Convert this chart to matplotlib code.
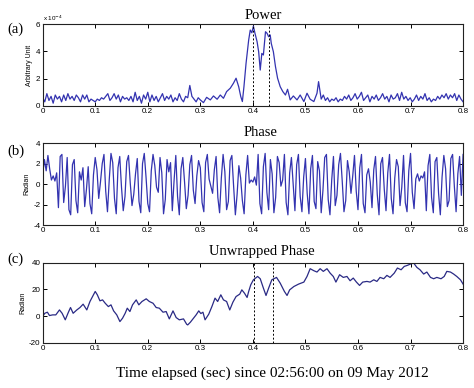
import matplotlib
matplotlib.use("Agg")
import matplotlib.pyplot as plt
import numpy as np

# ---- data ----
# power, units of 1e-4
power_base1 = [0.6, 0.3, 0.9, 0.4, 0.7, 0.2, 0.8, 0.5, 0.7, 0.3,
               0.8, 0.4, 0.9, 0.5, 0.7, 0.4, 0.8, 0.6, 0.3, 0.8,
               0.5, 0.8, 0.3, 0.5, 0.4, 0.3, 0.5, 0.4, 0.6, 0.5,
               0.7, 0.9, 0.4, 0.6, 0.9, 0.5, 0.8, 0.3, 0.7, 0.5,
               0.6, 0.4, 0.7, 0.3, 1.0, 0.4, 0.7, 0.2, 0.8, 0.5,
               1.0, 0.3, 0.8, 0.4, 0.7, 0.3, 0.6, 0.9, 0.4, 0.7,
               0.5, 0.8, 0.3, 0.6, 0.4, 0.9, 0.5, 0.3, 0.7, 0.6,
               1.5, 0.7, 0.5, 0.3, 0.6]
power_peak_t = [0.300, 0.306, 0.312, 0.319, 0.325, 0.332, 0.338, 0.344, 0.350, 0.357,
                0.363, 0.368, 0.373, 0.377, 0.380, 0.383, 0.387, 0.392, 0.395, 0.398,
                0.401, 0.404, 0.408, 0.411, 0.414, 0.417, 0.420, 0.424, 0.427, 0.430,
                0.433, 0.435, 0.439, 0.443, 0.447, 0.452, 0.457, 0.462, 0.466, 0.471,
                0.477, 0.484, 0.490, 0.497, 0.503, 0.509, 0.516, 0.522, 0.525]
power_peak_v = [0.44, 0.24, 0.63, 0.44, 0.73, 0.49, 0.80, 0.56, 1.05, 1.30,
                1.66, 2.03, 1.41, 0.68, 0.32, 1.41, 3.12, 4.83, 5.56, 5.36,
                5.85, 5.32, 4.71, 3.97, 2.63, 3.85, 3.73, 5.44, 5.32, 5.07,
                5.20, 4.58, 3.97, 2.88, 2.03, 1.41, 1.05, 0.80, 1.22, 0.44,
                0.73, 0.44, 0.80, 0.32, 0.93, 0.49, 0.32, 0.93, 1.78]
power_base2 = [0.5, 0.8, 0.4, 0.6, 0.3, 0.5, 0.4, 0.6, 0.3, 0.5,
               0.4, 0.7, 0.5, 0.8, 0.4, 0.6, 0.9, 0.5, 0.7, 1.0,
               0.4, 0.6, 0.8, 0.3, 0.7, 0.5, 0.8, 0.4, 0.6, 0.9,
               0.5, 0.7, 0.3, 0.8, 0.5, 0.6, 0.9, 0.4, 1.0, 0.5,
               0.7, 0.4, 0.6, 0.3, 0.5, 0.8, 0.4, 0.7, 0.5, 0.9,
               0.4, 0.6, 0.3, 0.5, 0.4, 0.7, 0.5, 0.8, 0.6, 0.9,
               0.5, 0.8, 0.6, 0.9, 0.4, 0.8, 0.5, 0.3]

# wrapped phase, radian
phase_vals = [
    0.9, 2.4, 1.3, 2.8, 1.5, 0.4, 0.8, 0.3, 1.1, -2.3, 2.7, 2.9, -1.8, -0.2, 2.6, -2.5, -3.0, 1.9, 2.4, -1.6,
    -2.8, 1.2, 0.4, 1.6, -2.2, -0.5, 1.7, -1.9, -2.9, 0.9, 2.6, 1.4, -1.4, 0.2, 2.0, 2.9, -0.7, -2.7, 0.4, 3.0,
    2.1, -1.4, -2.9, 1.6, 2.7, -0.3, -2.6, -1.2, 2.2, 2.8, 0.1, -2.1, -1.0, 1.0, 2.5, -1.7, -2.8, 2.0, 3.0, 0.7,
    -1.9, -2.7, 1.3, 2.9, 1.8, -0.3, -0.8, 2.6, 1.1, -2.9, -1.5, 2.4, 1.2, 2.1, -2.6, 0.3, 2.8, -1.2, -3.0, 1.5,
    2.6, 0.2, -2.4, -1.1, 1.9, 2.8, -0.6, -1.9, 0.8, 2.3, 1.6, -1.8, -2.7, 2.1, 2.9, 0.5, -0.2, -0.9, 1.4, 2.7,
    -1.3, -2.8, 0.6, 2.9, 1.2, -2.5, -1.7, 2.3, 2.8, -0.2, -3.0, -1.0, 1.8, 0.6, -1.6, -2.9, 0.9, 2.8, 0.1, 0.4,
    0.2, 0.7, -0.1, 2.9, -1.9, -2.9, 1.7, 3.0, -0.8, -2.5, 2.4, 1.0, -2.8, -1.3, 2.7, 2.1, -0.2, 0.4, 2.9, -1.8,
    -3.0, 1.1, 2.6, 0.0, -2.6, 1.9, 2.9, -1.2, -2.7, 0.7, 2.5, -0.9, -2.9, 1.5, 2.8, -1.7, -2.4, 2.2, 1.3, -2.8,
    -0.6, 2.6, 2.9, -1.5, -3.0, 0.4, 2.7, -2.1, -1.1, 1.9, 3.0, 0.3, -2.7, -1.6, 2.3, 1.2, -0.9, 0.8, 2.8, -0.7,
    -2.5, 1.6, 2.9, -1.9, -2.8, 0.9, 1.5, 0.2, -2.3, 1.4, 2.7, -1.0, -3.0, 2.0, 2.6, -0.5, -2.6, 1.1, 2.9, -1.4,
    -2.9, 0.6, 2.4, 1.7, -2.1, -0.3, 2.8, -1.8, -2.7, 1.3, 3.0, -0.8, -2.4, 0.5, 1.0, 0.3, 0.8, 0.6, 1.2, -2.6,
    1.8, 2.9, -1.3, -2.8, 2.2, 2.6, -0.9, -3.0, 0.7, 2.8, 1.5, -2.2, -1.6, 2.5, 2.9, -0.2, -2.7, 1.0, 2.7, -1.1,
    2.9]

# unwrapped phase, radian
unwrap_t = [0.000, 0.004, 0.009, 0.013, 0.019, 0.025, 0.032, 0.037, 0.043, 0.049,
            0.053, 0.058, 0.065, 0.071, 0.077, 0.084, 0.090, 0.095, 0.100, 0.104,
            0.109, 0.114, 0.119, 0.125, 0.130, 0.135, 0.141, 0.147, 0.152, 0.157,
            0.161, 0.166, 0.171, 0.178, 0.183, 0.189, 0.197, 0.203, 0.210, 0.216,
            0.222, 0.229, 0.235, 0.241, 0.248, 0.254, 0.260, 0.268, 0.274,
            0.276, 0.281, 0.287, 0.292, 0.297, 0.301, 0.305, 0.309, 0.316, 0.322,
            0.328, 0.333, 0.339, 0.344, 0.350, 0.356, 0.362, 0.368, 0.375, 0.379,
            0.384, 0.389, 0.392, 0.396, 0.401, 0.409, 0.414, 0.420, 0.425, 0.430,
            0.436, 0.445, 0.452, 0.460, 0.465, 0.470, 0.478, 0.487, 0.497, 0.503,
            0.509, 0.516, 0.522, 0.528,
            0.534, 0.541, 0.547, 0.553, 0.558, 0.565, 0.572, 0.579, 0.585, 0.591,
            0.597, 0.603, 0.609, 0.617, 0.623, 0.630, 0.636, 0.642, 0.649, 0.655,
            0.661, 0.669, 0.675, 0.682, 0.688, 0.694, 0.700, 0.706, 0.712, 0.718,
            0.725, 0.731, 0.738, 0.744, 0.750, 0.758, 0.764, 0.769, 0.776, 0.782,
            0.788, 0.795, 0.800]
unwrap_v = [-0.2, 2.2, 3.0, 0.5, 1.0, 1.0, 4.7, 2.2, -2.7, 3.0,
            6.5, 2.2, 4.7, 6.5, 9.0, 4.7, 11.0, 14.7, 18.5, 16.0,
            11.5, 12.2, 9.7, 7.2, 8.5, 4.0, 1.0, -4.0, -1.5, 2.2,
            6.0, 3.5, 8.5, 12.2, 8.5, 11.0, 13.0, 11.0, 9.7, 6.5,
            6.0, 3.0, 3.5, -2.0, 4.0, -1.0, -2.7, -2.0, -6.0,
            -6.5, -4.5, -1.5, 1.0, 4.0, 2.0, 3.0, -2.7, 1.5, 7.2,
            13.5, 11.0, 16.0, 12.2, 11.0, 4.7, 10.5, 14.7, 16.5, 19.7,
            17.2, 14.0, 18.5, 23.5, 27.2, 29.7, 28.0, 21.0, 15.5, 21.0,
            27.2, 29.0, 24.7, 18.5, 15.5, 19.7, 22.2, 24.0, 25.5, 29.7,
            35.5, 34.0, 33.0, 35.5,
            33.5, 35.5, 32.2, 29.7, 25.5, 31.0, 29.0, 29.7, 26.5, 28.5,
            25.5, 23.0, 25.5, 26.0, 25.5, 27.2, 26.0, 29.0, 28.0, 30.5,
            29.0, 32.2, 36.0, 34.7, 37.2, 38.0, 39.0, 39.7, 36.5, 34.7,
            31.5, 33.0, 29.0, 28.0, 29.0, 28.0, 29.7, 33.5, 33.0, 31.5,
            29.7, 27.2, 24.0]

power_marks = [0.400, 0.430]
unwrap_marks = [0.402, 0.438]

# ---- build series ----
power_t = np.concatenate([np.linspace(0.0, 0.296, len(power_base1)),
                          power_peak_t,
                          np.linspace(0.53, 0.8, len(power_base2))])
power_v = np.concatenate([power_base1, power_peak_v, power_base2])
phase_t = np.linspace(0.0, 0.8, len(phase_vals))

line_col = "#3333b0"
serif = ["Liberation Serif", "DejaVu Serif"]
tick_family = ["Liberation Sans Narrow", "Liberation Sans", "DejaVu Sans"]

fig = plt.figure(figsize=(4.74, 3.88), dpi=100)
fig.patch.set_facecolor("white")

boxes = [[0.090, 0.727, 0.887, 0.211],
         [0.090, 0.420, 0.887, 0.211],
         [0.090, 0.116, 0.887, 0.207]]
axes = [fig.add_axes(b) for b in boxes]


def style(ax, yticks, ylim):
    ax.set_xlim(0, 0.8)
    ax.set_ylim(*ylim)
    ax.set_xticks([0, 0.1, 0.2, 0.3, 0.4, 0.5, 0.6, 0.7, 0.8])
    ax.set_xticklabels(["0", "0.1", "0.2", "0.3", "0.4", "0.5", "0.6", "0.7", "0.8"])
    ax.set_yticks(yticks)
    ax.set_yticklabels([str(y) for y in yticks])
    ax.tick_params(direction="in", top=True, right=True, length=3, width=0.7, pad=1.5)
    for lab in ax.get_xticklabels() + ax.get_yticklabels():
        lab.set_fontfamily(tick_family)
        lab.set_fontsize(5.8)
    for sp in ax.spines.values():
        sp.set_linewidth(0.8)
        sp.set_color("#222222")


ax = axes[0]
ax.plot(power_t, power_v, color=line_col, linewidth=0.9)
for m in power_marks:
    ax.axvline(m, color="black", linestyle=(0, (2, 2)), linewidth=0.7)
style(ax, [0, 2, 4, 6], (0, 6))
ax.set_ylabel("Arbitrary Unit", fontsize=5, family=tick_family, labelpad=2)
ax.text(0.0, 1.015, r"x 10$^{-4}$", transform=ax.transAxes, fontsize=4.5,
        family=tick_family, va="bottom", ha="left")

ax = axes[1]
ax.plot(phase_t, phase_vals, color=line_col, linewidth=0.9)
style(ax, [-4, -2, 0, 2, 4], (-4, 4))
ax.set_ylabel("Radian", fontsize=5, family=tick_family, labelpad=2)

ax = axes[2]
ax.plot(unwrap_t, unwrap_v, color="#2a2a85", linewidth=0.9)
for m in unwrap_marks:
    ax.axvline(m, color="black", linestyle=(0, (2, 2)), linewidth=0.7)
style(ax, [-20, 0, 20, 40], (-20, 40))
ax.set_ylabel("Radian", fontsize=5, family=tick_family, labelpad=2)

# titles and panel letters
fig.text(0.555, 0.951, "Power", ha="center", va="baseline", fontsize=10.5, family=serif)
fig.text(0.550, 0.649, "Phase", ha="center", va="baseline", fontsize=10.5, family=serif)
fig.text(0.552, 0.343, "Unwrapped Phase", ha="center", va="baseline", fontsize=10.5, family=serif)
fig.text(0.574, 0.028, "Time elapsed (sec) since 02:56:00 on 09 May 2012",
         ha="center", va="baseline", fontsize=11, family=serif)
fig.text(0.015, 0.915, "(a)", fontsize=10.5, family=serif, va="baseline")
fig.text(0.015, 0.600, "(b)", fontsize=10.5, family=serif, va="baseline")
fig.text(0.015, 0.322, "(c)", fontsize=10.5, family=serif, va="baseline")

fig.savefig("out.png", dpi=100, facecolor="white")
